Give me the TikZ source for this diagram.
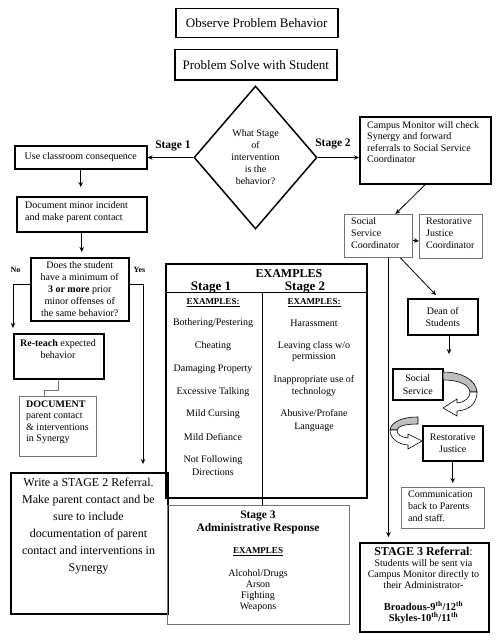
\documentclass[tikz,border=0pt]{standalone}
\usepackage{fontspec}
\setmainfont{Liberation Serif}
\usetikzlibrary{shapes.geometric,arrows.meta,calc}
\begin{document}
\begin{tikzpicture}[x=1pt,y=-1pt,
  tbox/.style={draw, line width=1.5pt, inner sep=0pt, anchor=north west, align=center, font=\fontsize{10}{12}\selectfont},
  gbox/.style={draw=black!55, line width=0.9pt, inner sep=0pt, anchor=north west, align=center},
  txt/.style={inner sep=0pt, align=center, font=\fontsize{10}{12}\selectfont},
  ltxt/.style={inner sep=0pt, align=left, anchor=north west, font=\fontsize{10}{11.7}\selectfont},
  conn/.style={line width=0.8pt, -{Stealth[length=5pt,width=4.5pt]}},
  bld/.style={inner sep=0pt, font=\bfseries\fontsize{#1}{#1}\selectfont},
  curvback/.style={draw, line width=0.6pt, fill=black!25},
  curvfront/.style={draw, line width=0.6pt, fill=white},
]
\useasboundingbox (0,0) rectangle (500,642);
\fill[white] (0,0) rectangle (500,642);

% top boxes
\node[tbox, minimum width=162pt, minimum height=29pt, font=\fontsize{13}{15}\selectfont] (observe) at (175,8) {Observe Problem Behavior};
\node[tbox, minimum width=162pt, minimum height=30pt, font=\fontsize{13}{15}\selectfont] (solve) at (174,49) {Problem Solve with Student};
\node[draw, diamond, line width=1.5pt, minimum width=123pt, minimum height=143pt, inner sep=0pt, align=center, font=\fontsize{10}{12}\selectfont] (dia) at (255.5,157.5) {What Stage\\of\\intervention\\is the\\behavior?};
\node[bld=11.5] (st1) at (173,146) {Stage 1};
\node[bld=11.5] (st2) at (333,144) {Stage 2};

% left column
\node[tbox, minimum width=132pt, minimum height=23pt] (usecc) at (14,145) {Use classroom consequence};
\node[tbox, minimum width=130pt, minimum height=35pt] (docminor) at (16,196) {};
\node[ltxt, font=\fontsize{10}{12}\selectfont] (docminorT) at (25,201) {Document minor incident\\and make parent contact};
\node[tbox, minimum width=98pt, minimum height=63pt] (quest) at (30,257) {Does the student\\have a minimum of\\\textbf{3 or more} prior\\minor offenses of\\the same behavior?};
\node[bld=8] (no) at (15.5,270) {No};
\node[bld=8] (yes) at (139.5,270) {Yes};
\node[tbox, minimum width=90pt, minimum height=45pt] (reteach) at (13,333) {};
\node[txt, anchor=north] (reteachT) at (58,339.5) {\textbf{Re-teach} expected\\behavior};
\node[gbox, minimum width=77pt, minimum height=60pt] (document) at (19,396) {};
\node[ltxt, font=\fontsize{10}{11.4}\selectfont] (documentT) at (26,400.5) {\textbf{DOCUMENT}\\parent contact\\\& interventions\\in Synergy};
\node[tbox, minimum width=157pt, minimum height=141pt] (write2) at (10,472) {};
\node[txt, font=\fontsize{12}{17}\selectfont] (write2T) at (88.5,526) {Write a STAGE 2 Referral.\\Make parent contact and be\\sure to include\\documentation of parent\\contact and interventions in\\Synergy};

% examples box
\node[tbox, minimum width=201pt, minimum height=234pt] (ex) at (165,263) {};
\node[gbox, minimum width=182pt, minimum height=119pt] (st3) at (167,505) {};
\coordinate (hdrY) at (0,292);
\coordinate (divX) at (262,0);
\draw[line width=1pt] (ex.west |- hdrY) -- (ex.east |- hdrY);
\draw[line width=0.8pt] (divX |- hdrY) -- (divX |- st3.north);
\node[bld=12, anchor=base] (exH) at (289,277) {EXAMPLES};
\node[bld=13, anchor=base] (exS1) at (211,290) {Stage 1};
\node[bld=13, anchor=base] (exS2) at (305,290) {Stage 2};
\node[bld=9] (exE1) at (213,303) {\underline{EXAMPLES:}};
\node[bld=9] (exE2) at (314,303) {\underline{EXAMPLES:}};
\node[txt] (a1) at (213,323) {Bothering/Pestering};
\node[txt] (a2) at (213,346) {Cheating};
\node[txt] (a3) at (213,369) {Damaging Property};
\node[txt] (a4) at (213,392) {Excessive Talking};
\node[txt] (a5) at (213,414) {Mild Cursing};
\node[txt] (a6) at (213,437) {Mild Defiance};
\node[txt, font=\fontsize{10}{12.5}\selectfont] (a7) at (213,465.5) {Not Following\\Directions};
\node[txt] (b1) at (314,323) {Harassment};
\node[txt, font=\fontsize{10}{11.5}\selectfont] (b2) at (314,351.5) {Leaving class w/o\\permission};
\node[txt, font=\fontsize{10}{12}\selectfont] (b3) at (314,386) {Inappropriate use of\\technology};
\node[txt, font=\fontsize{10}{12.5}\selectfont] (b4) at (314,420.5) {Abusive/Profane\\Language};

% stage 3 box text
\node[txt, font=\bfseries\fontsize{11.5}{13}\selectfont] (st3T) at (258,522.5) {Stage 3\\Administrative Response};
\node[bld=9] (st3E) at (258,552) {\underline{EXAMPLES}};
\node[txt, font=\fontsize{10}{11}\selectfont] (st3I) at (258,590.5) {Alcohol/Drugs\\Arson\\Fighting\\Weapons};

% right column
\node[tbox, minimum width=131pt, minimum height=67pt] (campus) at (359,116) {};
\node[ltxt, font=\fontsize{10}{11.5}\selectfont] (campusT) at (367,121) {Campus Monitor will check\\Synergy and forward\\referrals to Social Service\\Coordinator};
\node[gbox, minimum width=68pt, minimum height=43pt] (SSC) at (344,214) {};
\node[ltxt, font=\fontsize{10}{12}\selectfont] (SSCT) at (351,217.5) {Social\\Service\\Coordinator};
\node[gbox, minimum width=63pt, minimum height=44pt] (RJC) at (419,214) {};
\node[ltxt, font=\fontsize{10}{12}\selectfont] (RJCT) at (426,217.5) {Restorative\\Justice\\Coordinator};
\node[tbox, minimum width=70pt, minimum height=36pt] (dean) at (407,298) {Dean of\\Students};
\node[tbox, minimum width=50pt, minimum height=31pt, font=\fontsize{10}{13}\selectfont] (socserv) at (392,368) {Social\\Service};
\node[tbox, minimum width=60pt, minimum height=35pt] (restj) at (422,425) {Restorative\\Justice};
\node[gbox, minimum width=83pt, minimum height=41pt] (comm) at (401,487) {};
\node[ltxt, font=\fontsize{10}{12}\selectfont] (commT) at (408,491) {Communication\\back to Parents\\and staff.};
\node[tbox, minimum width=129pt, minimum height=89pt] (s3ref) at (359,542) {};
\node[txt, anchor=north, font=\fontsize{10}{11}\selectfont] (s3refT) at (423.5,546.5) {{\fontsize{12}{13}\selectfont\textbf{STAGE 3 Referral}:}\\Students will be sent via\\Campus Monitor directly to\\their Administrator-\\[11pt]
 {\bfseries\fontsize{10.5}{11}\selectfont Broadous-9\textsuperscript{th}/12\textsuperscript{th}}\\
 {\bfseries\fontsize{10.5}{11}\selectfont Skyles-10\textsuperscript{th}/11\textsuperscript{th}}};

% curved arrows
\path[curvback] (443,372) .. controls (462,372) and (476,380) .. (477,392) -- (470,392) .. controls (469,385) and (460,380) .. (443,380) -- cycle;
\path[curvfront] (470,392) .. controls (470,398) and (465,402) .. (457,403) -- (457,399) -- (443,408) -- (457,416) -- (457,411) .. controls (471,410) and (477,402) .. (477,392) -- cycle;
\path[curvback] (418,417) .. controls (400,417) and (391,423) .. (390,430) -- (397,430) .. controls (398,426) and (405,424) .. (418,424) -- cycle;
\path[curvfront] (397,430) .. controls (397,435) and (401,437) .. (408,438) -- (408,434) -- (422,441) -- (408,449) -- (408,445) .. controls (396,444) and (390,437) .. (390,430) -- cycle;

% connectors
\draw[conn] (dia.west) -- (dia.west -| usecc.east);
\draw[conn] (dia.east) -- (dia.east -| campus.west);
\draw[conn, shorten >=9pt] (usecc.south) -- (usecc.south |- docminor.north);
\draw[conn, shorten >=5pt] (docminor.south) -- (docminor.south |- quest.north);
\draw[conn, shorten >=5pt] ([yshift=4.5pt]quest.west) -| (reteach.north west);
\coordinate (yesX) at (143,0);
\draw[conn, shorten >=8pt] ([yshift=4.5pt]quest.east) -| (yesX |- write2.north);
\draw[draw=black!55, line width=0.8pt] (reteach.south) -- ++(0,11) -| ([xshift=-13.5pt]document.north);
\draw[conn] (campus.south) -- ([xshift=17pt]SSC.north);
\draw[conn] ([yshift=-4.5pt]SSC.east) -- ([yshift=-4.5pt]RJC.west);
\draw[conn, shorten >=4pt] ([xshift=22pt]SSC.south) -- ([xshift=-4pt]dean.north);
\coordinate (deanEnd) at (449,354);
\draw[conn] (dean.south -| deanEnd) -- (deanEnd);
\draw[conn, shorten >=4pt] (restj.south) -- (restj.south |- comm.north);
\coordinate (sscDown) at ([xshift=10pt]SSC.south);
\draw[conn, shorten >=5pt] (sscDown) -- (sscDown |- s3ref.north);
\end{tikzpicture}
\end{document}
